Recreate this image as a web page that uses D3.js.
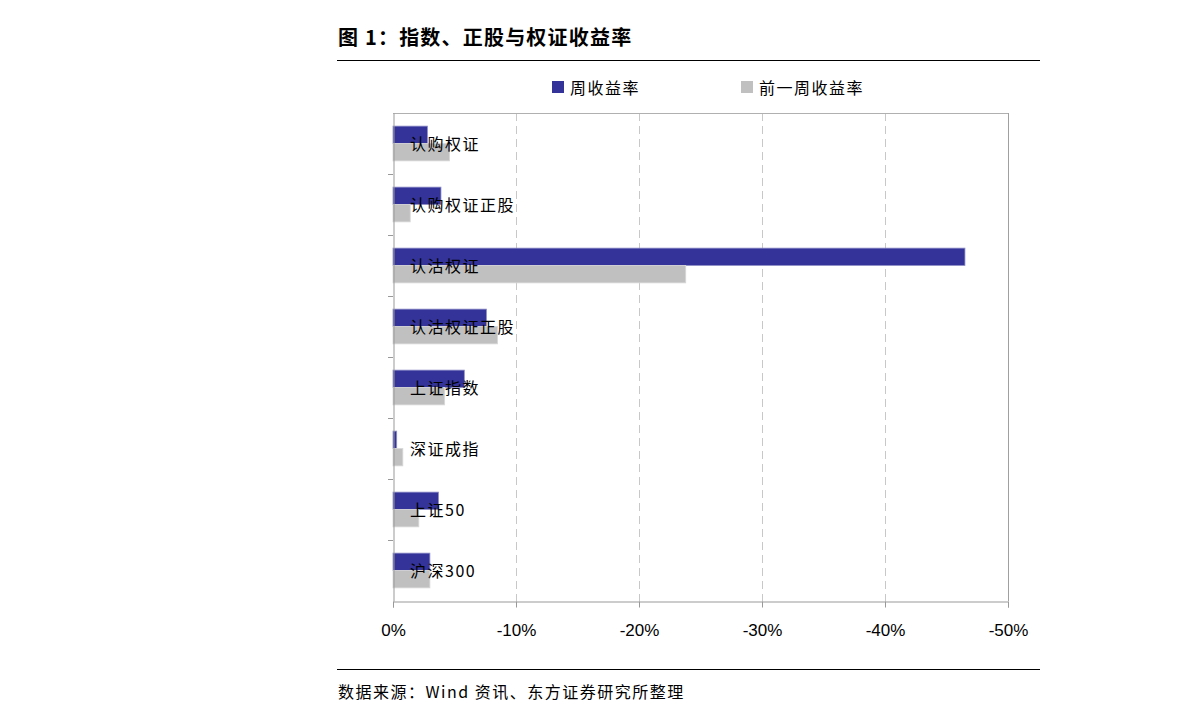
<!DOCTYPE html>
<html>
<head>
<meta charset="utf-8">
<script src="https://cdn.jsdelivr.net/npm/d3@7"></script>
<style>
  body { margin: 0; background: #fff; }
  svg text { font-family: "Noto Sans CJK SC", "Liberation Sans", sans-serif; }
</style>
</head>
<body>
<div id="container"></div>
<script>
// chart data
var categories = ["认购权证", "认购权证正股", "认沽权证", "认沽权证正股", "上证指数", "深证成指", "上证50", "沪深300"];
var weekReturn = [-2.8, -3.9, -46.5, -7.6, -5.8, -0.3, -3.7, -3.0];
var prevWeekReturn = [-4.6, -1.4, -23.8, -8.5, -4.2, -0.8, -2.1, -3.0];
var seriesNames = ["周收益率", "前一周收益率"];
var xTicks = [0, -10, -20, -30, -40, -50];

var width = 1191,
    height = 722;

var colors = ["#333399", "#c0c0c0"];

var plot = { left: 393, right: 1008, top: 113, bottom: 601 };

var svg = d3.select("div#container").append("svg")
    .attr("width", width)
    .attr("height", height);

// title + rules
svg.append("text")
    .attr("x", 338).attr("y", 45)
    .style("font-size", "20px")
    .style("font-weight", "bold")
    .style("letter-spacing", "1.2px")
    .text("图 1：指数、正股与权证收益率");

svg.append("line")
    .attr("x1", 337).attr("x2", 1040)
    .attr("y1", 60.5).attr("y2", 60.5)
    .attr("stroke", "#000").attr("stroke-width", 1.2);

svg.append("line")
    .attr("x1", 337).attr("x2", 1040)
    .attr("y1", 669.5).attr("y2", 669.5)
    .attr("stroke", "#000").attr("stroke-width", 1.2);

svg.append("text")
    .attr("x", 338).attr("y", 698)
    .style("font-size", "16px")
    .style("letter-spacing", "1.5px")
    .text("数据来源：Wind 资讯、东方证券研究所整理");

// legend
var legendX = [552, 741];
seriesNames.forEach(function (name, i) {
    svg.append("rect")
        .attr("x", legendX[i]).attr("y", 81)
        .attr("width", 12).attr("height", 12)
        .attr("fill", colors[i]);
    svg.append("text")
        .attr("x", legendX[i] + 18).attr("y", 94)
        .style("font-size", "16px")
        .style("letter-spacing", "1.5px")
        .text(name);
});

// scales
var x = d3.scaleLinear()
    .domain([0, -50])
    .range([plot.left, plot.right]);

var y = d3.scaleBand()
    .domain(categories)
    .range([plot.top, plot.bottom])
    .paddingInner(0.43)
    .paddingOuter(0.215);

var yBand = d3.scaleBand()
    .domain(categories)
    .range([plot.top, plot.bottom]);

var sub = d3.scaleBand()
    .domain([0, 1])
    .range([0, y.bandwidth()]);

// grid
svg.append("g")
    .selectAll("line")
    .data(xTicks.slice(1, -1))
    .enter().append("line")
    .attr("x1", function (d) { return Math.round(x(d)) + 0.5; })
    .attr("x2", function (d) { return Math.round(x(d)) + 0.5; })
    .attr("y1", plot.top)
    .attr("y2", plot.bottom)
    .attr("stroke", "#c8c8c8")
    .attr("stroke-dasharray", "8,5");

// frame top/right
svg.append("line")
    .attr("x1", plot.left).attr("x2", plot.right + 0.5)
    .attr("y1", plot.top + 0.5).attr("y2", plot.top + 0.5)
    .attr("stroke", "#b0b0b0");
svg.append("line")
    .attr("x1", plot.right + 0.5).attr("x2", plot.right + 0.5)
    .attr("y1", plot.top).attr("y2", plot.bottom)
    .attr("stroke", "#a0a0a0");

// bars
var groups = svg.append("g")
    .selectAll("g")
    .data(categories)
    .enter().append("g")
    .attr("transform", function (d) { return "translate(0," + y(d) + ")"; });

[weekReturn, prevWeekReturn].forEach(function (series, s) {
    groups.append("rect")
        .attr("x", x(0))
        .attr("y", sub(s))
        .attr("width", function (d, i) { return x(series[i]) - x(0); })
        .attr("height", sub.bandwidth())
        .attr("fill", colors[s])
        .attr("stroke", s === 0 ? "#8f8fc8" : "#d8d8d8")
        .attr("stroke-width", 0.8);
});

// category labels inside plot
groups.append("text")
    .attr("x", 410)
    .attr("y", y.bandwidth() / 2 + 7)
    .style("font-size", "16px")
    .style("letter-spacing", "1.5px")
    .style("fill", "#000")
    .text(function (d) { return d; });

// y axis
var yAxis = d3.axisLeft(yBand).tickSize(0).tickFormat("");
svg.append("g")
    .attr("transform", "translate(" + (plot.left + 0.5) + ",0)")
    .call(yAxis)
    .call(function (g) { g.select(".domain").attr("stroke", "#999"); });

svg.append("g")
    .selectAll("line")
    .data(categories.slice(1))
    .enter().append("line")
    .attr("x1", plot.left - 5)
    .attr("x2", plot.left)
    .attr("y1", function (d) { return Math.round(yBand(d)) + 0.5; })
    .attr("y2", function (d) { return Math.round(yBand(d)) + 0.5; })
    .attr("stroke", "#999");

// x axis
var xAxis = d3.axisBottom(x)
    .tickValues(xTicks)
    .tickSize(6)
    .tickPadding(16)
    .tickFormat(function (d) { return d + "%"; });

svg.append("g")
    .attr("transform", "translate(0," + (plot.bottom + 0.5) + ")")
    .call(xAxis)
    .call(function (g) {
        g.select(".domain").attr("stroke", "#999");
        g.selectAll(".tick line").attr("stroke", "#999");
        g.selectAll(".tick text")
            .style("font-family", "'Liberation Sans', Arial, sans-serif")
            .style("font-size", "17px")
            .attr("fill", "#000");
    });
</script>
</body>
</html>
